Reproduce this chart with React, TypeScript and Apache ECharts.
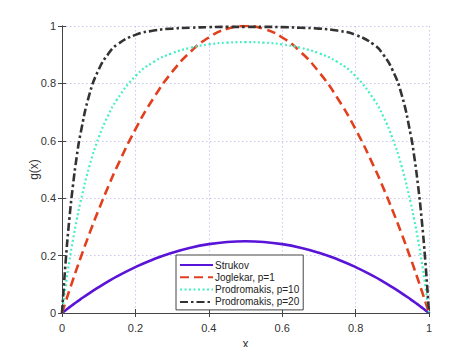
import React, { useEffect, useRef } from "react";
import * as echarts from "echarts";

const xs = [0, 0.01, 0.02, 0.03, 0.04, 0.05, 0.075, 0.1, 0.125, 0.15, 0.2, 0.25, 0.3, 0.35, 0.4, 0.45, 0.5,
  0.55, 0.6, 0.65, 0.7, 0.75, 0.8, 0.85, 0.875, 0.9, 0.925, 0.95, 0.96, 0.97, 0.98, 0.99, 1];

const strukov = [0, 0.0099, 0.0196, 0.0291, 0.0384, 0.0475, 0.0694, 0.09, 0.1094, 0.1275, 0.16, 0.1875, 0.21, 0.2275, 0.24, 0.2475, 0.25,
  0.2475, 0.24, 0.2275, 0.21, 0.1875, 0.16, 0.1275, 0.1094, 0.09, 0.0694, 0.0475, 0.0384, 0.0291, 0.0196, 0.0099, 0];

const joglekar = [0, 0.0396, 0.0784, 0.1164, 0.1536, 0.19, 0.2775, 0.36, 0.4375, 0.51, 0.64, 0.75, 0.84, 0.91, 0.96, 0.99, 1,
  0.99, 0.96, 0.91, 0.84, 0.75, 0.64, 0.51, 0.4375, 0.36, 0.2775, 0.19, 0.1536, 0.1164, 0.0784, 0.0396, 0];

const prod10 = [0, 0.095, 0.18, 0.256, 0.324, 0.385, 0.513, 0.611, 0.686, 0.744, 0.825, 0.875, 0.905, 0.924, 0.936, 0.942, 0.944,
  0.942, 0.936, 0.924, 0.905, 0.875, 0.825, 0.744, 0.686, 0.611, 0.513, 0.385, 0.324, 0.256, 0.18, 0.095, 0];

const prod20 = [0, 0.18, 0.327, 0.446, 0.543, 0.622, 0.763, 0.848, 0.901, 0.935, 0.969, 0.984, 0.991, 0.994, 0.996, 0.997, 0.997,
  0.997, 0.996, 0.994, 0.991, 0.984, 0.969, 0.935, 0.901, 0.848, 0.763, 0.622, 0.543, 0.446, 0.327, 0.18, 0];

const seriesNames = ["Strukov", "Joglekar, p=1", "Prodromakis, p=10", "Prodromakis, p=20"];
const seriesValues = [strukov, joglekar, prod10, prod20];
const colors = ["#5a14d8", "#e2401c", "#45efc4", "#333333"];
const widths = [2.6, 2.6, 2.2, 2.6];
const dashes: any[] = ["solid", [9, 5], [2, 2.5], [8, 3, 2.5, 3]];

const font = "Liberation Sans, Arial, Helvetica, sans-serif";

export default function App() {
  const ref = useRef<HTMLDivElement>(null);
  useEffect(() => {
    const chart = echarts.init(ref.current!, null, { renderer: "svg" });
    const axisLine = { show: true, lineStyle: { color: "#444", width: 1 } };
    const gridLine = { show: true, lineStyle: { color: "#c9c9ef", type: [1.5, 2.5] as any, width: 1 } };
    chart.setOption({
      animation: false,
      backgroundColor: "#fff",
      grid: { left: 62, right: 45, top: 26, bottom: 39 },
      xAxis: [
        {
          type: "value", min: 0, max: 1, interval: 0.2,
          name: "x", nameLocation: "middle", nameGap: 25, nameMoveOverlap: false,
          nameTextStyle: { color: "#333", fontSize: 12, fontFamily: font },
          axisLine, axisTick: { show: true, inside: true, length: 4, lineStyle: { color: "#444" } },
          axisLabel: { color: "#333", fontSize: 11, fontFamily: font, margin: 9 },
          splitLine: gridLine,
        },
        {
          type: "value", min: 0, max: 1, interval: 0.2, position: "top",
          axisLine, axisTick: { show: true, inside: true, length: 4, lineStyle: { color: "#444" } },
          axisLabel: { show: false }, splitLine: { show: false },
        },
      ],
      yAxis: [
        {
          type: "value", min: 0, max: 1, interval: 0.2,
          name: "g(x)", nameLocation: "middle", nameGap: 22, nameMoveOverlap: false,
          nameTextStyle: { color: "#333", fontSize: 12, fontFamily: font },
          axisLine, axisTick: { show: true, inside: true, length: 4, lineStyle: { color: "#444" } },
          axisLabel: { color: "#333", fontSize: 11, fontFamily: font, margin: 6 },
          splitLine: gridLine,
        },
        {
          type: "value", min: 0, max: 1, interval: 0.2, position: "right",
          axisLine, axisTick: { show: true, inside: true, length: 4, lineStyle: { color: "#444" } },
          axisLabel: { show: false }, splitLine: { show: false },
        },
      ],
      legend: {
        orient: "vertical",
        left: 176, top: 255,
        backgroundColor: "#fff",
        borderColor: "#444", borderWidth: 1, borderRadius: 0,
        padding: [5, 4, 3, 3],
        itemGap: 2.3, itemWidth: 33, itemHeight: 12,
        itemStyle: { opacity: 0 },
        textStyle: { color: "#222", fontSize: 10, fontFamily: font, padding: [0, 0, 0, -3] },
        data: seriesNames,
      },
      series: seriesNames.map((name, i) => ({
        name, type: "line", showSymbol: false, symbol: "none",
        smooth: 0.5,
        z: 3 + i,
        lineStyle: { color: colors[i], width: widths[i], type: dashes[i] },
        itemStyle: { color: colors[i] },
        data: xs.map((x, k) => [x, seriesValues[i][k]]),
      })),
    });
    return () => chart.dispose();
  }, []);
  return <div ref={ref} style={{ width: 474, height: 355, margin: -8 }} />;
}
